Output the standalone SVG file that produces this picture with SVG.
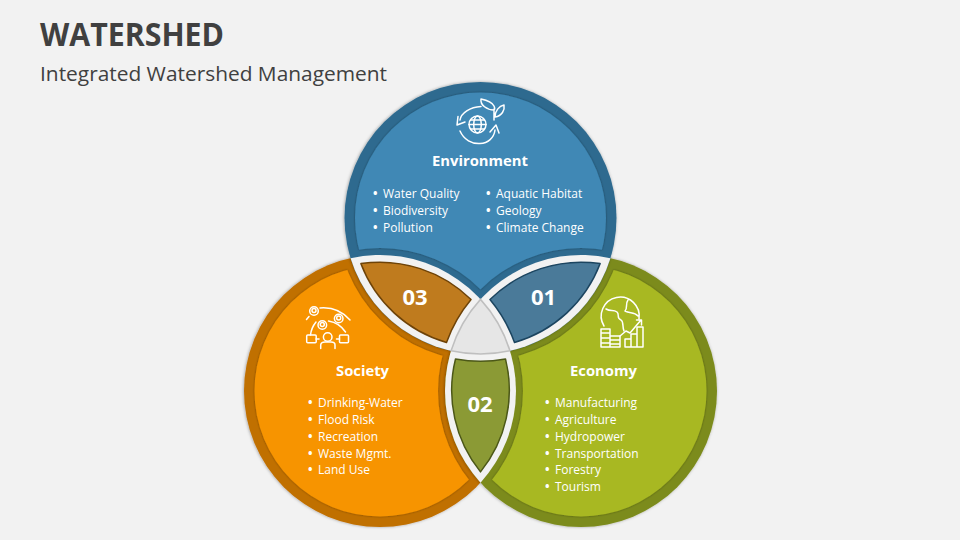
<svg xmlns="http://www.w3.org/2000/svg" width="960" height="540" viewBox="0 0 960 540">
<style>
text{font-family:"Open Sans","Liberation Sans",sans-serif;fill:#fff}
.title{font-size:32.5px;font-weight:700;fill:#404040}
.sub{font-size:20.5px;fill:#404040}
.head{font-size:14.8px;font-weight:700;text-anchor:middle}
.item{font-size:12px;font-weight:500}
.dot{font-size:12px;font-weight:700}
.num{font-size:22px;font-weight:700;text-anchor:middle}
.ic{fill:none;stroke:#fff;stroke-width:1.5;stroke-linecap:round;stroke-linejoin:round}
.white{fill:#f2f2f2;stroke:none}
.lens{stroke-width:1.5;stroke-linejoin:round}
</style>
<defs>
<filter id="sh" x="-10%" y="-10%" width="120%" height="120%"><feDropShadow dx="-0.5" dy="0" stdDeviation="1.5" flood-color="#000" flood-opacity=".35"/></filter>
<filter id="in" x="-10%" y="-10%" width="120%" height="120%"><feDropShadow dx="0" dy="0" stdDeviation="1.3" flood-color="#000" flood-opacity=".4"/></filter>
<mask id="mT" maskUnits="userSpaceOnUse" x="0" y="0" width="960" height="540"><rect width="960" height="540" fill="#fff"/><circle cx="380" cy="391" r="143" fill="#000"/><circle cx="581" cy="391" r="143" fill="#000"/></mask>
<mask id="mL" maskUnits="userSpaceOnUse" x="0" y="0" width="960" height="540"><rect width="960" height="540" fill="#fff"/><circle cx="480.5" cy="218" r="143" fill="#000"/><circle cx="581" cy="391" r="143" fill="#000"/></mask>
<mask id="mR" maskUnits="userSpaceOnUse" x="0" y="0" width="960" height="540"><rect width="960" height="540" fill="#fff"/><circle cx="480.5" cy="218" r="143" fill="#000"/><circle cx="380" cy="391" r="143" fill="#000"/></mask>
</defs>
<rect width="960" height="540" fill="#f2f2f2"/>
<text class="title" x="40" y="46" textLength="184" lengthAdjust="spacingAndGlyphs">WATERSHED</text>
<text class="sub" x="40" y="81" textLength="347" lengthAdjust="spacingAndGlyphs">Integrated Watershed Management</text>

<g id="society">
<circle cx="380" cy="391" r="136" fill="#c06f00" filter="url(#sh)"/>
<g filter="url(#in)"><circle cx="380" cy="391" r="125.500" fill="#f79400" mask="url(#mL)"/></g>
</g>
<g id="economy">
<circle cx="581" cy="391" r="136" fill="#7c8b1b" filter="url(#sh)"/>
<g filter="url(#in)"><circle cx="581" cy="391" r="125.500" fill="#a8b823" mask="url(#mR)"/></g>
</g>
<g id="environment">
<circle cx="480.500" cy="218" r="136" fill="#2f6b8f" filter="url(#sh)"/>
<g filter="url(#in)"><circle cx="480.500" cy="218" r="125.500" fill="#3f88b5" mask="url(#mT)"/></g>
</g>

<g id="overlap-white">
<path class="white" d="M480.500 299.370A136 136 0 0 1 480.500 482.630A136 136 0 0 1 480.500 299.370Z"/>
<path class="white" d="M350.580 258.220A136 136 0 0 1 509.920 350.780A136 136 0 0 1 350.580 258.220Z"/>
<path class="white" d="M610.420 258.220A136 136 0 0 0 451.080 350.780A136 136 0 0 0 610.420 258.220Z"/>
</g>
<g id="center"><path d="M480.500 299.370A136 136 0 0 1 509.920 350.780A136 136 0 0 1 451.080 350.780A136 136 0 0 1 480.500 299.370Z" fill="#e6e6e6" stroke="#bfbfbf" stroke-width="1.500"/></g>

<g id="overlap-03">
<path class="lens" fill="#bf7b1e" stroke="#6e4308" d="M360.820 263.590A130 130 0 0 1 471.030 299.590A143 143 0 0 0 446.500 342.430A130 130 0 0 1 360.820 263.590Z"/>
<text class="num" x="415" y="305">03</text>
</g>
<g id="overlap-01">
<path class="lens" fill="#4a7a99" stroke="#1c4560" d="M600.180 263.590A130 130 0 0 0 489.970 299.590A143 143 0 0 1 514.500 342.430A130 130 0 0 0 600.180 263.590Z"/>
<text class="num" x="543.500" y="305">01</text>
</g>
<g id="overlap-02">
<path class="lens" fill="#8b9a35" stroke="#4c5818" d="M455.500 359A143 143 0 0 0 505.500 359A130 130 0 0 1 480.500 471.900A130 130 0 0 1 455.500 359Z"/>
<text class="num" x="480" y="412">02</text>
</g>

<g id="environment-label">
<g class="ic">
<circle cx="477.500" cy="124.500" r="8.500"/><ellipse cx="477.500" cy="124.500" rx="3.800" ry="8.500"/><path d="M469 124.500H486M470.500 120H484.500M470.500 129H484.500"/>
<path d="M460 120C461 113 470 107 481 106.500M458 116.500L457 125L465 122"/>
<path d="M460 131C464 140 472 144 480 143.500C488 143 494 138 495 130M490 132L496 125L499 133"/>
<path d="M494 120V109M494 110C487 110 480 105 481 99C486 100 492 102 494 106C495 108 495 109 494 110ZM495 117C495 111 499 106 504 105C505 110 502 116 495 117Z"/>
</g>
<text class="head" x="480" y="166">Environment</text>
<text class="dot" x="373" y="198">•</text><text class="item" x="383" y="198">Water Quality</text>
<text class="dot" x="373" y="215">•</text><text class="item" x="383" y="215">Biodiversity</text>
<text class="dot" x="373" y="232">•</text><text class="item" x="383" y="232">Pollution</text>
<text class="dot" x="486" y="198">•</text><text class="item" x="496" y="198">Aquatic Habitat</text>
<text class="dot" x="486" y="215">•</text><text class="item" x="496" y="215">Geology</text>
<text class="dot" x="486" y="232">•</text><text class="item" x="496" y="232">Climate Change</text>
</g>

<g id="society-label">
<g class="ic">
<circle cx="314" cy="311" r="4.300"/><circle cx="338.700" cy="318.500" r="4.300"/><circle cx="322.300" cy="325" r="4.300"/>
<path d="M312 310.500A2 2 0 1 1 316 310.500A2 2 0 1 1 312 310.500M336.700 318A2 2 0 1 1 340.700 318A2 2 0 1 1 336.700 318M320.300 324.500A2 2 0 1 1 324.300 324.500A2 2 0 1 1 320.300 324.500"/>
<path d="M306.500 319.500L309 316.500M320 308A36 36 0 0 1 350 320M310.500 335A25 25 0 0 1 316 322M328.500 321A25 25 0 0 1 345.500 332"/>
<rect x="306.700" y="335" width="9.500" height="7.700" rx="1"/><rect x="339.500" y="335" width="9" height="7.700" rx="1"/>
<path d="M316 339L319 339M339.500 339L336.500 339"/>
<circle cx="327.700" cy="337" r="4.300"/><path d="M320.700 348.500V345Q321 342 325 342H331Q335 342 335 345V348.500"/>
</g>
<text class="head" x="362.500" y="376">Society</text>
<text class="dot" x="308" y="407">•</text><text class="item" x="318" y="407">Drinking-Water</text>
<text class="dot" x="308" y="424">•</text><text class="item" x="318" y="424">Flood Risk</text>
<text class="dot" x="308" y="441">•</text><text class="item" x="318" y="441">Recreation</text>
<text class="dot" x="308" y="458">•</text><text class="item" x="318" y="458">Waste Mgmt.</text>
<text class="dot" x="308" y="474">•</text><text class="item" x="318" y="474">Land Use</text>
</g>

<g id="economy-label">
<g class="ic">
<path d="M604 326A19 19 0 1 1 639 319M606 309C611 312 613 309 617 312C620 315 616 318 621 320C624 322 622 326 624 331M628 300C625 304 628 308 625 311C630 314 634 311 638 316"/>
<path d="M601 329H610V347H601ZM601 333H610M601 338H610M601 343H610M610 336H620V347H610M610 340H620M610 344H620"/>
<path d="M625 347V339H631V347M631 347V334H637V347M637 347V327H643V347H625"/>
<path d="M620 336L626 331L630 333L641 320M636.500 320H641.500V325"/>
</g>
<text class="head" x="603.500" y="376">Economy</text>
<text class="dot" x="545" y="407">•</text><text class="item" x="555" y="407">Manufacturing</text>
<text class="dot" x="545" y="424">•</text><text class="item" x="555" y="424">Agriculture</text>
<text class="dot" x="545" y="441">•</text><text class="item" x="555" y="441">Hydropower</text>
<text class="dot" x="545" y="458">•</text><text class="item" x="555" y="458">Transportation</text>
<text class="dot" x="545" y="474">•</text><text class="item" x="555" y="474">Forestry</text>
<text class="dot" x="545" y="491">•</text><text class="item" x="555" y="491">Tourism</text>
</g>
<g id="connectors"/>
</svg>
